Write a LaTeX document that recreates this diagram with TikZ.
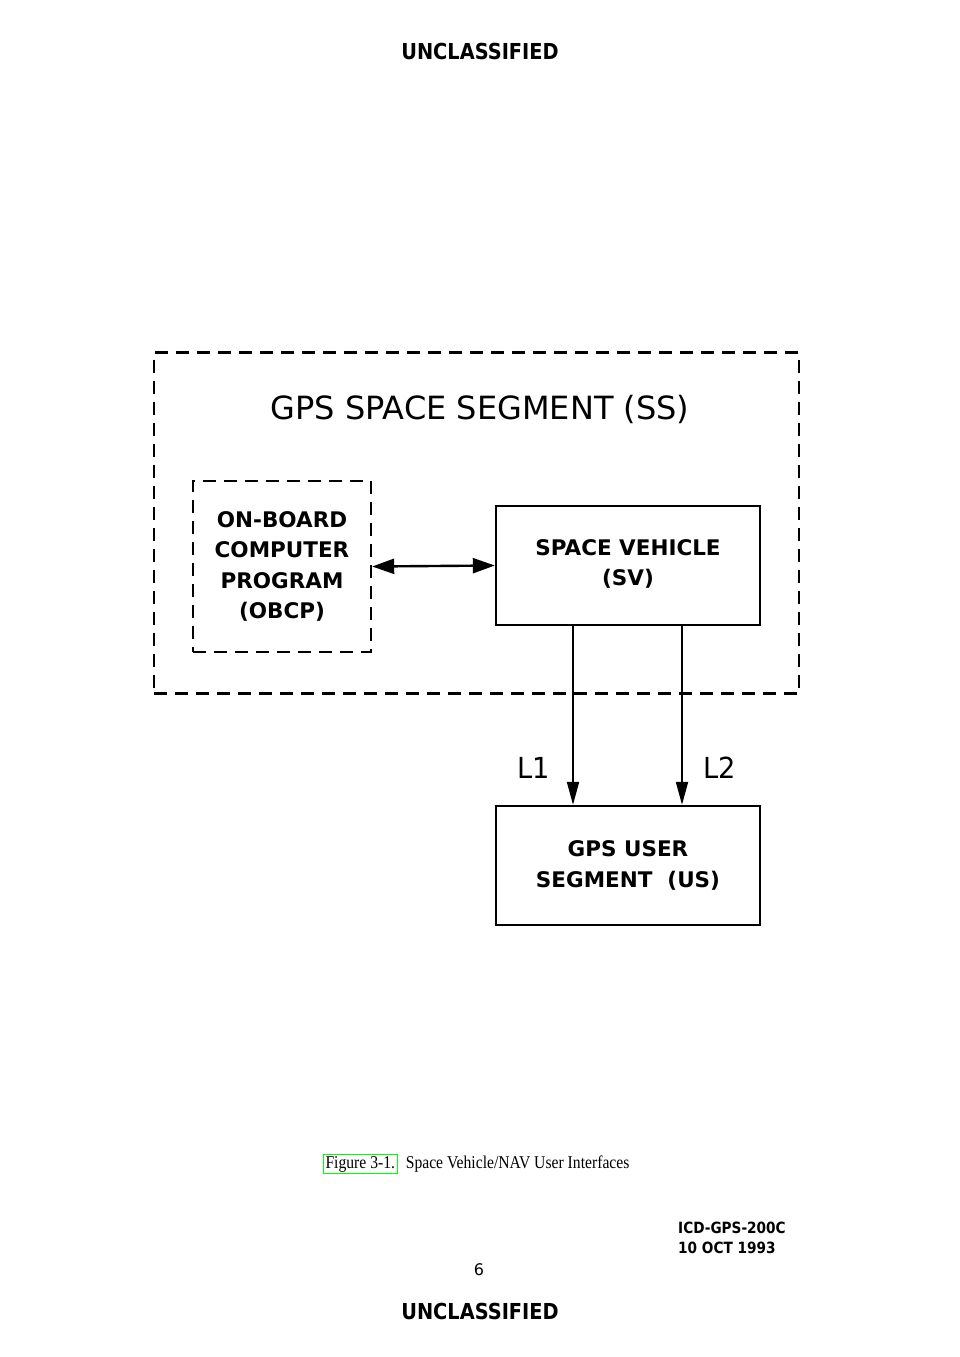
\documentclass[tikz,border=0pt]{standalone}
\usepackage{fontspec}
\usepackage{graphicx}
\setmainfont{DejaVu Sans}
\newfontfamily\capfont[FakeStretch=0.87]{Liberation Serif}
\newfontfamily\narrowfont[FakeStretch=0.88]{DejaVu Sans}
\newfontfamily\thinfont[FakeStretch=0.94]{DejaVu Sans}
\usetikzlibrary{arrows.meta}

\begin{document}
\begin{tikzpicture}
[x=1pt,y=-1pt,
  boxDecorate/.style={shape=rectangle,draw,line width=2.4pt,inner sep=0pt,align=center,
    font=\fontsize{21.5}{30.5}\selectfont\bfseries},
  dashDecorate/.style={boxDecorate,dash pattern=on 13pt off 8pt},
  lineDecorate/.style={line width=2pt,-{Triangle[length=23pt,width=12pt]}},
  bothDecorate/.style={line width=2.4pt,{Triangle[length=22pt,width=15pt]}-{Triangle[length=22pt,width=15pt]}},
  labelDecorate/.style={anchor=base,inner sep=0pt,font=\thinfont\fontsize{29}{29}\selectfont},
  headDecorate/.style={anchor=base,inner sep=0pt,font=\narrowfont\fontsize{22}{22}\selectfont\bfseries}]
\useasboundingbox (0,0) rectangle (960,1357);
%% page header
\node (topMark) at (480,59) [headDecorate] {UNCLASSIFIED};
%% segments
\node (ss) at (476.5,523) [dashDecorate,minimum width=645pt,minimum height=341pt] {};
\node (ssTitle) at (480,419) [labelDecorate,font=\fontsize{32}{32}\selectfont]
  {GPS SPACE SEGMENT (SS)};
\node (obcp) at (282,566.5) [dashDecorate,minimum width=178pt,minimum height=171pt]
  {ON-BOARD\\COMPUTER\\PROGRAM\\(OBCP)};
\node (sv) at (628,565.5) [boxDecorate,minimum width=264pt,minimum height=119pt]
  {SPACE VEHICLE\\(SV)\rule[-6pt]{0pt}{0pt}};
\node (us) at (628,865.5) [boxDecorate,minimum width=264pt,minimum height=119pt]
  {GPS USER\\SEGMENT\ \ (US)};
%% links
\draw[bothDecorate] (obcp.east) -- (sv.west);
\foreach \linkname/\x/\lx in {L1/573/534, L2/682/720}
{
  \draw[lineDecorate] (sv.south -| \x,0) -- (us.north -| \x,0);
  \node (\linkname) at (\lx,778) [labelDecorate] {\linkname};
}
%% caption and footer
\node (figTag) at (323,1164) [anchor=west,draw=green,line width=1pt,inner sep=2pt,
  font=\capfont\fontsize{18}{18}\selectfont] {Figure 3-1.};
\node (figText) at (figTag.base east) [anchor=base west,inner sep=0pt,xshift=8pt,
  font=\capfont\fontsize{18}{18}\selectfont] {Space Vehicle/NAV User Interfaces};
\node (docId) at (678,1253) [anchor=base west,inner sep=0pt,align=left,
  font=\narrowfont\fontsize{15.5}{19.5}\selectfont\bfseries] {ICD-GPS-200C\\10 OCT 1993};
\node (pageNo) at (479,1275) [anchor=base,inner sep=0pt,font=\fontsize{16}{16}\selectfont] {6};
\node (bottomMark) at (480,1319) [headDecorate] {UNCLASSIFIED};
\end{tikzpicture}
\end{document}
